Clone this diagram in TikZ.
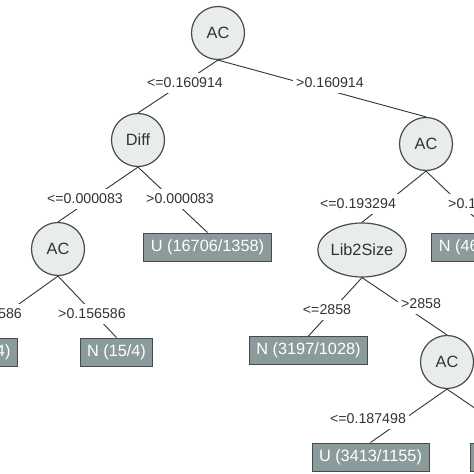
\documentclass[tikz,border=0pt]{standalone}
\usepackage{fontspec}
\setsansfont{Liberation Sans}
\usepackage{tikz}
\usetikzlibrary{positioning,shapes.geometric}
\definecolor{Bubble}{HTML}{E8ECEC}
\definecolor{Leaf}{HTML}{8B9B9B}
\definecolor{Rim}{HTML}{4A4A4A}
\definecolor{Wire}{HTML}{333333}
\definecolor{Ink}{HTML}{333333}
\tikzset{
  split/.style={circle, draw=Rim, line width=1.2pt, fill=Bubble, minimum size=53pt,
                inner sep=0pt, font=\sffamily\fontsize{16.3}{18}\selectfont, text=Ink},
  oval/.style={split, ellipse, minimum width=80pt, minimum height=54pt},
  leaf/.style={draw=Rim, line width=1pt, fill=Leaf, minimum height=28pt, inner xsep=7pt,
               inner ysep=0pt, font=\sffamily\fontsize{16.3}{18}\selectfont, text=white},
  cond/.style={fill=white, inner xsep=3pt, inner ysep=5pt,
               font=\sffamily\fontsize{14.2}{16}\selectfont, text=Ink},
  wire/.style={draw=Wire, line width=0.9pt},
}
\begin{document}
\begin{tikzpicture}[x=1pt,y=-1pt]
  \clip (0,0) rectangle (474,474);
  \fill[white] (0,0) rectangle (474,474);
  % splits
  \node[split] (root) at (218,33) {AC};
  \node[split] (diff) at (138,140) {Diff};
  \node[split] (acb) at (426,144) {AC};
  \node[split] (acc) at (58,249) {AC};
  \node[oval] (lib) at (362,250) {Lib2Size};
  \node[split] (acd) at (447,362) {AC};
  % leaves
  \node[leaf] (u1) at (207.5,247) {U (16706/1358)};
  \node[leaf] (n1) at (491,247.5) {N (4612/1380)};
  \node[leaf] (u0) at (-28,352) {U (186/54)};
  \node[leaf] (n0) at (116.5,352) {N (15/4)};
  \node[leaf] (n2) at (308.5,350.5) {N (3197/1028)};
  \node[leaf] (u2) at (370.5,457) {U (3413/1155)};
  \node[leaf] (n3) at (525,457) {N (2258/912)};
  % branches
  \draw[wire] (root.south) -- (diff.north);
  \draw[wire] (root.south) -- (acb.north);
  \draw[wire] (diff.south) -- (acc.north);
  \draw[wire] (diff.south) -- (u1.north);
  \draw[wire] (acb.south) -- (lib.north);
  \draw[wire] (acb.south) -- (n1.north);
  \draw[wire] (acc.south) -- (u0.north);
  \draw[wire] (acc.south) -- (n0.north);
  \draw[wire] (lib.south) -- (n2.north);
  \draw[wire] (lib.south) -- (acd.north);
  \draw[wire] (acd.south) -- (u2.north);
  \draw[wire] (acd.south) -- (n3.north);
  % tests
  \node[cond] (t1) at (185,83) {<=0.160914};
  \node[cond] (t2) at (330,83) {>0.160914};
  \node[cond] (t3) at (85,199) {<=0.000083};
  \node[cond] (t4) at (180,199) {>0.000083};
  \node[cond] (t5) at (358,204) {<=0.193294};
  \node[cond] (t6) at (482,204) {>0.193294};
  \node[cond] (t7) at (-16,314) {<=0.156586};
  \node[cond] (t8) at (92,314) {>0.156586};
  \node[cond] (t9) at (327,310) {<=2858};
  \node[cond] (t10) at (421,304) {>2858};
  \node[cond] (t11) at (368,419) {<=0.187498};
\end{tikzpicture}
\end{document}
